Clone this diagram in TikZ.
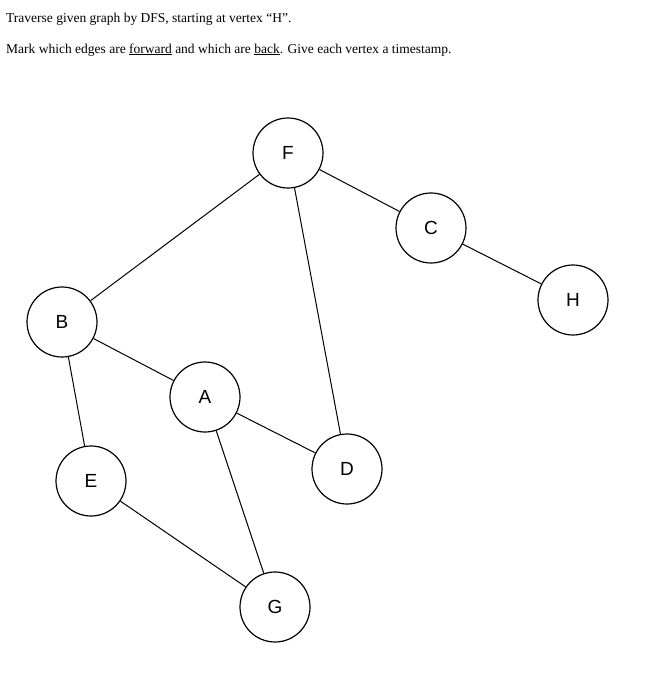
\documentclass[tikz,border=0pt]{standalone}
\usepackage{fontspec}
\setmainfont{Liberation Serif}
\newfontfamily\lbl{Liberation Sans}
\begin{document}
\begin{tikzpicture}[x=1pt,y=-1pt,
  vtx/.style={circle,draw,line width=1.2pt,minimum size=70pt,inner sep=0pt,font=\lbl\fontsize{19}{22}\selectfont},
  edge/.style={line width=1pt},
  txt/.style={anchor=base west,inner sep=0pt,font=\fontsize{13.5}{16}\selectfont}]
\useasboundingbox[fill=white] (0,0) rectangle (661,691);
\node[txt] (t1) at (6,22) {Traverse given graph by DFS, starting at vertex “H”.};
\node[txt] (t2) at (6,53) {Mark which edges are \underline{forward} and which are \underline{back}. Give each vertex a timestamp.};
\node[vtx] (F) at (288,153) {F};
\node[vtx] (C) at (431,228) {C};
\node[vtx] (H) at (573,300) {H};
\node[vtx] (B) at (62,322) {B};
\node[vtx] (A) at (205,397) {A};
\node[vtx] (D) at (347,469) {D};
\node[vtx] (E) at (91,481) {E};
\node[vtx] (G) at (275,607) {G};
\draw[edge] (F)--(C); \draw[edge] (C)--(H); \draw[edge] (F)--(B);
\draw[edge] (F)--(D); \draw[edge] (B)--(A); \draw[edge] (A)--(D);
\draw[edge] (B)--(E); \draw[edge] (A)--(G); \draw[edge] (E)--(G);
\end{tikzpicture}
\end{document}
